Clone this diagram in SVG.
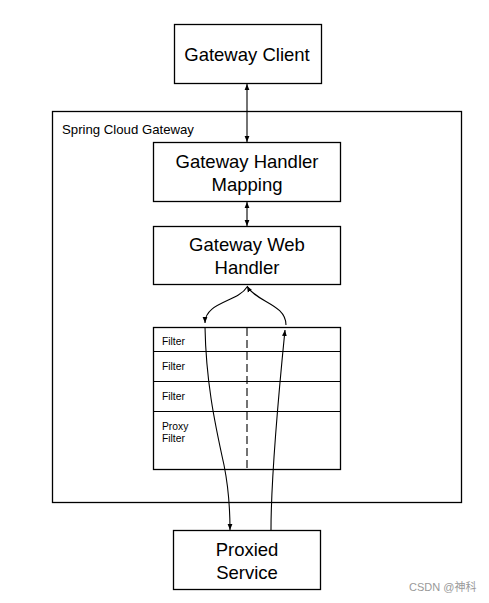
<svg xmlns="http://www.w3.org/2000/svg" width="489" height="603" viewBox="0 0 489 603">
<style>
.box{fill:#fff;stroke:#000;stroke-width:1.3}
.big{font-family:"Liberation Sans",Arial,sans-serif;font-size:18.5px;fill:#000;text-anchor:middle}
.sm{font-family:"Liberation Sans",Arial,sans-serif;font-size:10.3px;fill:#000}
.ln{fill:none;stroke:#000;stroke-width:1.1}
</style>
<defs>
<marker id="ah" viewBox="0 0 10 10" refX="10" refY="5" markerWidth="6" markerHeight="6" orient="auto-start-reverse" markerUnits="userSpaceOnUse">
<path d="M0,1 L10,5 L0,9 Z" fill="#000"/>
</marker>
</defs>
<rect width="489" height="603" fill="#fff"/>
<g id="gateway">
<rect class="box" x="52.5" y="111.5" width="409" height="391"/>
<text x="62" y="134" font-family="Liberation Sans,Arial,sans-serif" font-size="13.2px">Spring Cloud Gateway</text>
</g>
<g id="client">
<rect class="box" x="174.5" y="24.5" width="147" height="59"/>
<text class="big" x="247" y="61">Gateway Client</text>
</g>
<g id="mapping">
<rect class="box" x="153.5" y="142.5" width="187" height="59"/>
<text class="big" x="247" y="168">Gateway Handler</text>
<text class="big" x="247" y="191">Mapping</text>
</g>
<g id="webhandler">
<rect class="box" x="153.5" y="226.5" width="187" height="58"/>
<text class="big" x="247" y="251">Gateway Web</text>
<text class="big" x="247" y="274">Handler</text>
</g>
<g id="filters">
<rect class="box" x="153.5" y="327.5" width="187" height="142"/>
<line class="ln" x1="153.5" y1="351.5" x2="340.5" y2="351.5"/>
<line class="ln" x1="153.5" y1="381.5" x2="340.5" y2="381.5"/>
<line class="ln" x1="153.5" y1="411.5" x2="340.5" y2="411.5"/>
<line class="ln" x1="247" y1="328" x2="247" y2="469" stroke-dasharray="8,4"/>
<text class="sm" x="162" y="345">Filter</text>
<text class="sm" x="162" y="370">Filter</text>
<text class="sm" x="162" y="400">Filter</text>
<text class="sm" x="162" y="430">Proxy</text>
<text class="sm" x="162" y="442">Filter</text>
</g>
<g id="proxied">
<rect class="box" x="173.5" y="530.5" width="147" height="59"/>
<text class="big" x="247" y="556">Proxied</text>
<text class="big" x="247" y="579">Service</text>
</g>
<g id="connectors">
<line class="ln" x1="247" y1="84" x2="247" y2="142" marker-start="url(#ah)" marker-end="url(#ah)"/>
<line class="ln" x1="247" y1="202" x2="247" y2="226" marker-start="url(#ah)" marker-end="url(#ah)"/>
<path class="ln" d="M247,287 C238,302 205,302 205,323" marker-end="url(#ah)"/>
<path class="ln" d="M286,325 C286,304 256,302 247,286" marker-end="url(#ah)"/>
<path class="ln" d="M205,327 C206,380 214,420 224,465 C228,485 230,505 230,530" marker-end="url(#ah)"/>
<path class="ln" d="M271,530 C271,480 276,420 285,330" marker-end="url(#ah)"/>
</g>
<text x="409" y="591" font-family="Liberation Sans,'Noto Sans CJK SC',sans-serif" font-size="11px" fill="#999">CSDN @神科</text>
</svg>
